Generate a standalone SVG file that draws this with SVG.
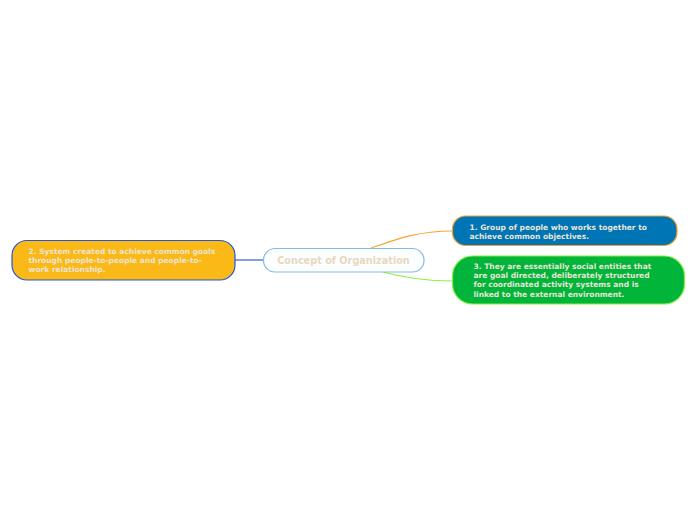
<svg xmlns="http://www.w3.org/2000/svg" width="696" height="520" viewBox="0 0 696 520">
<style>
.t{font-family:"DejaVu Sans","Verdana",sans-serif;font-weight:bold;font-size:7.5px;fill:#ece4d6}
.c{font-family:"DejaVu Sans","Verdana",sans-serif;font-weight:bold;font-size:9.7px;fill:#e8d8bd}
.ln{fill:none;stroke-width:1.2}
</style>
<rect width="696" height="520" fill="#ffffff"/>
<g id="connectors">
<path class="ln" stroke="#2a5ee0" d="M235,260 L263,260"/>
<path class="ln" stroke="#f5a530" d="M371,248 C400,238 420,231 452,231"/>
<path class="ln" stroke="#8cf040" d="M383,272 C405,278 425,281 452,281"/>
</g>
<g id="center">
<rect x="263.5" y="248.5" width="160.5" height="23.5" rx="11.5" fill="#fcfeff" stroke="#82bbe6" stroke-width="1.2"/>
<text class="c" x="343.5" y="263.5" text-anchor="middle">Concept of Organization</text>
</g>
<g id="node2">
<rect x="12" y="240.5" width="223" height="39.5" rx="15" fill="#fbb917" stroke="#2456d6" stroke-width="1.2"/>
<text class="t" x="28.5" y="253.5">2. System created to achieve common goals</text>
<text class="t" x="28.5" y="262.5">through people-to-people and people-to-</text>
<text class="t" x="28.5" y="271.5">work relationship.</text>
</g>
<g id="node1">
<rect x="452.5" y="216" width="224.5" height="29.5" rx="13" fill="#0075b5" stroke="#f0a030" stroke-width="1.2"/>
<text class="t" x="469.5" y="229.5">1. Group of people who works together to</text>
<text class="t" x="469.5" y="238.5">achieve common objectives.</text>
</g>
<g id="node3">
<rect x="452.5" y="256" width="232" height="48" rx="20" fill="#00b53a" stroke="#88f040" stroke-width="1.2"/>
<text class="t" x="473.5" y="268.5">3. They are essentially social entities that</text>
<text class="t" x="473.5" y="278">are goal directed, deliberately structured</text>
<text class="t" x="473.5" y="287">for coordinated activity systems and is</text>
<text class="t" x="473.5" y="296.5">linked to the external environment.</text>
</g>
</svg>
